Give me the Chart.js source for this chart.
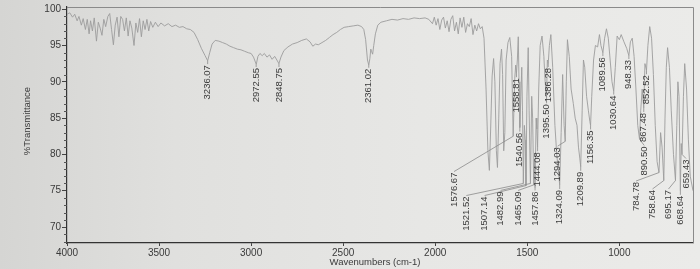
<!DOCTYPE html>
<html>
<head>
<meta charset="utf-8">
<script src="https://cdn.jsdelivr.net/npm/chart.js@4.4.1/dist/chart.umd.min.js"></script>
<style>
  html, body { margin: 0; padding: 0; }
  body {
    width: 700px; height: 269px; overflow: hidden;
    background: linear-gradient(90deg, #d5d5d3 0%, #e0e0de 25%, #e7e7e5 60%, #ebebe9 100%);
  }
  canvas { display: block; }
</style>
</head>
<body>
<canvas id="espectro" width="700" height="269"></canvas>
<script>
// ticks
const xTicks = [4000, 3500, 3000, 2500, 2000, 1500, 1000];
const yTicks = [70, 75, 80, 85, 90, 95, 100];

// spectrum: wavenumber (cm-1) and %T
const specWn = [
  4000, 3985, 3970, 3958, 3945, 3935, 3922, 3912, 3900, 3890,
  3880, 3872, 3862, 3852, 3840, 3830, 3820, 3810, 3800, 3790,
  3778, 3768, 3758, 3748, 3738, 3728, 3718, 3708, 3698, 3688,
  3678, 3668, 3658, 3648, 3636, 3626, 3616, 3606, 3596, 3586,
  3576, 3566, 3556, 3546, 3534, 3520, 3505, 3490, 3470, 3450,
  3430, 3410, 3390, 3370, 3350, 3330, 3310, 3290, 3270, 3250,
  3236, 3225, 3212, 3195, 3175, 3155, 3135, 3115, 3095, 3075,
  3055, 3035, 3015, 3000, 2987, 2972, 2963, 2952, 2940, 2928,
  2914, 2900, 2886, 2872, 2860, 2849, 2838, 2822, 2800, 2775,
  2750, 2725, 2700, 2680, 2665, 2650, 2635, 2615, 2595, 2575,
  2555, 2535, 2515, 2495, 2470, 2445, 2420, 2400, 2388, 2378,
  2368, 2361, 2355, 2350, 2346, 2340, 2334, 2325, 2312, 2295,
  2265, 2235, 2205, 2175, 2145, 2115, 2085, 2055, 2035, 2015,
  2005, 1995, 1985, 1975, 1965, 1955, 1945, 1935, 1925, 1915,
  1905, 1895, 1885, 1875, 1865, 1855, 1845, 1835, 1825, 1815,
  1805, 1795, 1785, 1775, 1765, 1755, 1745, 1735, 1724, 1714,
  1706, 1699, 1691, 1683, 1676, 1668, 1662, 1655, 1648, 1640,
  1634, 1628, 1622, 1615, 1605, 1595, 1585, 1576.67, 1568, 1563,
  1558.81, 1554, 1549, 1545, 1540.56, 1535, 1530, 1526, 1521.52, 1516,
  1511, 1507.14, 1502, 1495, 1490, 1482.99, 1476, 1471, 1465.09, 1461,
  1457.86, 1452, 1448, 1444.08, 1438, 1430, 1420, 1410, 1403, 1395.5,
  1391, 1386.28, 1380, 1372, 1362, 1350, 1340, 1332, 1324.09, 1316,
  1308, 1300, 1294.03, 1288, 1282, 1272, 1262, 1250, 1240, 1230,
  1222, 1215, 1209.89, 1202, 1195, 1188, 1178, 1168, 1160, 1156.35,
  1150, 1140, 1130, 1118, 1108, 1100, 1089.56, 1080, 1070, 1060,
  1050, 1040, 1030.64, 1022, 1012, 1000, 990, 975, 960, 948.33,
  940, 930, 920, 910, 900, 890.5, 884, 876, 867.48, 861,
  852.52, 845, 835, 825, 815, 805, 795, 784.78, 776, 768,
  758.64, 752, 745, 738, 728, 718, 706, 695.17, 688, 682,
  676, 668.64, 664, 659.43, 652, 645, 635, 625, 615, 600
];
const specT = [
  99.3, 99.5, 98.9, 99.3, 98.4, 99.0, 97.8, 98.7, 97.2, 98.6,
  96.6, 98.4, 97.0, 98.8, 95.6, 98.2, 97.4, 96.4, 98.6, 97.6,
  99.0, 99.4, 97.2, 95.1, 97.8, 98.9, 96.2, 99.0, 98.6, 97.0,
  98.8, 96.3, 98.4, 97.4, 95.0, 98.1, 96.8, 98.7, 96.2, 98.4,
  97.2, 98.6, 97.0, 98.3, 97.5, 98.2, 97.6, 98.1, 97.7, 98.0,
  97.6, 97.8, 97.5, 97.6, 97.3, 97.2, 96.8, 95.8, 94.6, 93.6,
  92.9, 94.0, 95.2, 95.7, 95.6, 95.4, 95.2, 94.9, 94.7, 94.5,
  94.4, 94.2, 94.0, 93.9, 93.4, 92.4, 93.5, 93.9, 93.6, 93.9,
  93.4, 93.7, 93.1, 93.5, 93.0, 92.5, 93.4, 94.3, 94.8, 95.2,
  95.4, 95.7, 95.9, 95.5, 94.9, 95.2, 95.1, 95.4, 95.7, 96.1,
  96.5, 96.8, 97.2, 97.5, 97.6, 97.7, 97.8, 97.6, 97.2, 95.8,
  93.0, 92.3, 93.2, 94.5, 94.2, 93.8, 95.0, 96.6, 97.8, 98.2,
  98.4, 98.6, 98.5, 98.7, 98.6, 98.8, 98.7, 98.8, 98.6, 98.0,
  98.9, 97.8, 98.7, 97.2, 98.5, 98.9, 97.4, 98.4, 96.9, 98.6,
  99.1, 97.0, 98.2, 96.6, 98.8, 97.5, 98.9, 96.8, 98.0, 97.6,
  98.7, 96.5, 97.8, 97.0, 98.0, 97.3, 97.6, 96.0, 89.0, 80.5,
  77.8, 83.5, 90.8, 93.2, 90.0, 80.5, 78.2, 85.0, 92.5, 94.5,
  91.0, 80.5, 83.0, 93.0, 95.4, 96.1, 93.5, 82.5, 90.5, 92.3,
  91.2, 93.0, 96.2, 90.0, 83.7, 88.0, 92.0, 86.0, 76.0, 84.0,
  82.0, 75.7, 88.0, 94.7, 86.0, 76.0, 88.0, 85.0, 75.8, 79.0,
  75.4, 85.0, 83.5, 81.0, 89.0, 95.0, 96.3, 93.5, 90.0, 87.8,
  93.0, 92.5, 95.0, 96.5, 92.0, 84.0, 80.0, 78.0, 75.8, 83.0,
  91.0, 84.0, 81.8, 90.0, 95.8, 93.5, 89.0, 87.0, 85.0, 84.0,
  81.0, 79.5, 78.3, 86.0, 93.0, 92.0, 88.0, 86.0, 84.5, 84.0,
  88.0, 93.0, 95.0, 94.8, 96.5, 95.0, 94.0, 96.0, 97.3, 96.0,
  93.0, 90.0, 88.7, 92.0, 96.3, 95.8, 96.5, 95.5, 94.6, 93.6,
  95.5, 96.0, 93.5, 89.0, 84.0, 82.1, 86.0, 89.0, 86.4, 92.5,
  91.6, 95.0, 97.6, 96.0, 91.0, 84.0, 79.0, 77.5, 83.0, 81.0,
  76.4, 85.0, 92.0, 94.7, 92.0, 86.0, 80.0, 76.4, 84.0, 90.0,
  88.0, 75.0, 81.5, 80.0, 88.0, 92.5, 89.0, 82.0, 77.0, 75.0
];

// peak labels and where each label sits (wavenumber of label, %T of its top, %T of the peak tip)
const peakText = [
  "3236.07", "2972.55", "2848.75", "2361.02", "1576.67", "1558.81", "1540.56", "1521.52",
  "1507.14", "1482.99", "1465.09", "1457.86", "1444.08", "1395.50", "1386.28", "1324.09",
  "1294.03", "1209.89", "1156.35", "1089.56", "1030.64", "948.33", "890.50", "867.48",
  "852.52", "784.78", "758.64", "695.17", "668.64", "659.43"
];
const labelWn = [
  3236.07, 2972.55, 2848.75, 2361.02, 1898, 1558.81, 1540.56, 1831,
  1732, 1645, 1550, 1457.86, 1444.08, 1395.5, 1386.28, 1324.09,
  1335, 1209.89, 1156.35, 1089.56, 1030.64, 948.33, 865, 867.48,
  852.52, 909, 820, 733, 668.64, 638
];
const labelTopT = [
  92.3, 91.9, 91.9, 91.8, 77.5, 90.5, 83.0, 74.2,
  74.2, 74.9, 74.9, 74.9, 80.3, 86.9, 91.9, 75.1,
  81.0, 77.6, 83.3, 93.4, 88.1, 93.0, 81.1, 85.7,
  90.9, 76.2, 75.1, 75.1, 74.3, 79.3
];
const tipT = [
  92.9, 92.4, 92.5, 92.3, 82.5, 91.2, 83.7, 76.0,
  75.7, 76.0, 75.8, 75.4, 81.0, 87.8, 92.5, 75.8,
  81.8, 78.3, 84.0, 94.0, 88.7, 93.6, 82.1, 86.4,
  91.6, 77.5, 76.4, 76.4, 75.0, 80.0
];

const puntos = specWn.map((w, i) => ({ x: w, y: specT[i] }));
const fuente = '"Liberation Sans", Arial, sans-serif';

// etiquetas de picos, marco y titulos de ejes
const extras = {
  id: "extras",
  afterDatasetsDraw(chart) {
    const { ctx, scales: { x, y } } = chart;
    ctx.save();
    ctx.strokeStyle = "#8a8a8a";
    ctx.lineWidth = 0.8;
    ctx.fillStyle = "#3a3a3a";
    ctx.font = "9.5px " + fuente;
    peakText.forEach((txt, i) => {
      const lx = x.getPixelForValue(labelWn[i]);
      const ly = y.getPixelForValue(labelTopT[i]);
      const px = x.getPixelForValue(parseFloat(txt));
      const py = y.getPixelForValue(tipT[i]);
      ctx.beginPath();
      ctx.moveTo(lx, ly - 1);
      ctx.lineTo(px, py);
      ctx.stroke();
      ctx.save();
      ctx.translate(lx, ly);
      ctx.rotate(-Math.PI / 2);
      ctx.textAlign = "right";
      ctx.textBaseline = "middle";
      ctx.fillText(txt, 0, 0);
      ctx.restore();
    });
    ctx.restore();
  },
  afterDraw(chart) {
    const { ctx, chartArea: a, scales: { y } } = chart;
    ctx.save();
    // marco superior y derecho
    ctx.strokeStyle = "#8a8a8a";
    ctx.lineWidth = 1;
    ctx.beginPath();
    ctx.moveTo(a.left, a.top + 0.5);
    ctx.lineTo(a.right + 0.5, a.top + 0.5);
    ctx.lineTo(a.right + 0.5, a.bottom);
    ctx.stroke();
    // ticks menores del eje y
    ctx.strokeStyle = "#555";
    for (let v = 68; v <= 100; v++) {
      if (v % 5 === 0) continue;
      const py = Math.round(y.getPixelForValue(v)) + 0.5;
      ctx.beginPath();
      ctx.moveTo(a.left - 3, py);
      ctx.lineTo(a.left, py);
      ctx.stroke();
    }
    // titulos
    ctx.fillStyle = "#3a3a3a";
    ctx.font = "9.5px " + fuente;
    ctx.textAlign = "center";
    ctx.textBaseline = "middle";
    ctx.fillText("Wavenumbers (cm-1)", 375, 262);
    ctx.translate(27, 121);
    ctx.rotate(-Math.PI / 2);
    ctx.fillText("%Transmittance", 0, 0);
    ctx.restore();
  }
};

new Chart(document.getElementById("espectro"), {
  type: "line",
  data: {
    datasets: [{
      data: puntos,
      borderColor: "#9c9c9c",
      borderWidth: 0.9,
      pointRadius: 0,
      tension: 0,
      fill: false
    }]
  },
  options: {
    responsive: false,
    animation: false,
    layout: { padding: { top: 4, right: 7, left: 0, bottom: 0 } },
    plugins: { legend: { display: false }, tooltip: { enabled: false } },
    scales: {
      x: {
        type: "linear",
        reverse: true,
        min: 600,
        max: 4000,
        afterBuildTicks: s => { s.ticks = xTicks.map(v => ({ value: v })); },
        afterFit: s => { s.height = 26; },
        grid: { drawOnChartArea: false, tickLength: 3, color: "#444" },
        border: { color: "#333", width: 1.2 },
        ticks: { color: "#3a3a3a", font: { size: 10, family: fuente }, padding: 1, maxRotation: 0, autoSkip: false, callback: v => String(v) }
      },
      y: {
        min: 67.8,
        max: 100.3,
        afterBuildTicks: s => { s.ticks = yTicks.map(v => ({ value: v })); },
        afterFit: s => { s.width = 67; },
        grid: { drawOnChartArea: false, tickLength: 5, color: "#444" },
        border: { color: "#333", width: 1.2 },
        ticks: { color: "#3a3a3a", font: { size: 10, family: fuente }, padding: 1, callback: v => String(v) }
      }
    }
  },
  plugins: [extras]
});
</script>
</body>
</html>
